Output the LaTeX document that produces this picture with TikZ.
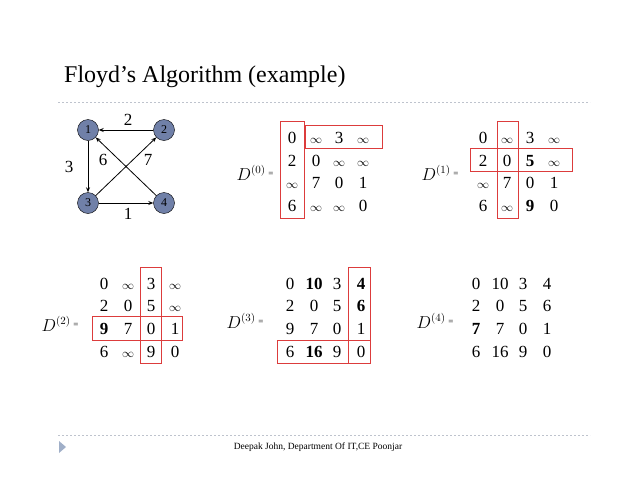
\documentclass[tikz,border=0pt]{standalone}
\usepackage{fontspec}
\setmainfont{Liberation Serif}
\usetikzlibrary{arrows.meta}
\definecolor{vfill}{RGB}{112,128,168}
\definecolor{rbox}{RGB}{220,60,60}
\definecolor{sepc}{RGB}{190,195,205}
\definecolor{tric}{RGB}{160,175,200}
\begin{document}
\begin{tikzpicture}[x=1pt,y=-1pt,
  vtx/.style={circle,draw=black,fill=vfill,minimum size=21pt,inner sep=0pt,font=\fontsize{12}{12}\selectfont},
  edge/.style={-{Stealth[length=5pt,width=4pt]},thick},
  ent/.style={font=\fontsize{17}{17}\selectfont,inner sep=0pt,anchor=base},
  lbl/.style={font=\fontsize{17}{17}\selectfont,inner sep=0pt},
  redbox/.style={draw=rbox,line width=0.8pt},
  sep/.style={draw=sepc,dash pattern=on 2pt off 2pt}]
\useasboundingbox (0,0) rectangle (638,493);
\node[anchor=base west,inner sep=0pt,font=\fontsize{24}{24}\selectfont] (title) at (64,82) {Floyd’s Algorithm (example)};
\draw[sep] (58,102) -- (590,102);
\draw[sep] (58,435) -- (590,435);
\fill[tric] (59,441) -- (66,447) -- (59,453) -- cycle;
\node[font=\fontsize{9.5}{9.5}\selectfont] (foot) at (318,447) {Deepak John, Department Of IT,CE Poonjar};
% graph
\node[vtx] (n1) at (88,130) {1};
\node[vtx] (n2) at (164,130) {2};
\node[vtx] (n3) at (88,203) {3};
\node[vtx] (n4) at (164,203) {4};
\draw[edge] (n2) -- (n1);
\draw[edge] (n1) -- (n3);
\draw[edge] (n3) -- (n2);
\draw[edge] (n4) -- (n1);
\draw[edge] (n3) -- (n4);
\node[lbl] (l2) at (128,120) {2};
\node[lbl] (l3) at (69,167) {3};
\node[lbl] (l6) at (103,160) {6};
\node[lbl] (l7) at (148,160) {7};
\node[lbl] (l1) at (128,214) {1};
% matrix macro
\newcommand{\mrow}[6]{%
  \node[ent] at (#1,#2) {#3}; \node[ent] at (#1+24,#2) {#4};
  \node[ent] at (#1+47,#2) {#5}; \node[ent] at (#1+71,#2) {#6};}
\def\I{{\fontsize{12}{12}\selectfont$\infty$}}
\newcommand{\dlab}[1]{$D^{(#1)}$\,\raisebox{4pt}{\fontsize{9}{9}\selectfont =}}
% D0
\node[lbl,font=\fontsize{16}{16}\selectfont] (d0) at (255,173) {\dlab{0}};
\draw[redbox] (280,121) rectangle (304,218);
\draw[redbox] (305,125) rectangle (382,148);
\mrow{292}{143}{0}{\I}{3}{\I}
\mrow{292}{166}{2}{0}{\I}{\I}
\mrow{292}{188}{\I}{7}{0}{1}
\mrow{292}{211}{6}{\I}{\I}{0}
% D1
\node[lbl,font=\fontsize{16}{16}\selectfont] (d1) at (440,173) {\dlab{1}};
\draw[redbox] (497,121) rectangle (518,218);
\draw[redbox] (470,148) rectangle (572,171);
\mrow{483}{143}{0}{\I}{3}{\I}
\mrow{483}{166}{2}{0}{\textbf{5}}{\I}
\mrow{483}{188}{\I}{7}{0}{1}
\mrow{483}{211}{6}{\I}{\textbf{9}}{0}
% D2
\node[lbl,font=\fontsize{16}{16}\selectfont] (d2) at (60,324) {\dlab{2}};
\draw[redbox] (140,267) rectangle (161,363);
\draw[redbox] (92,316) rectangle (182,340);
\mrow{104}{289}{0}{\I}{3}{\I}
\mrow{104}{311}{2}{0}{5}{\I}
\mrow{104}{334}{\textbf{9}}{7}{0}{1}
\mrow{104}{357}{6}{\I}{9}{0}
% D3
\node[lbl,font=\fontsize{16}{16}\selectfont] (d3) at (245,321) {\dlab{3}};
\draw[redbox] (348,267) rectangle (370,363);
\draw[redbox] (277,340) rectangle (370,363);
\mrow{290}{289}{0}{\textbf{10}}{3}{\textbf{4}}
\mrow{290}{311}{2}{0}{5}{\textbf{6}}
\mrow{290}{334}{9}{7}{0}{1}
\mrow{290}{357}{6}{\textbf{16}}{9}{0}
% D4
\node[lbl,font=\fontsize{16}{16}\selectfont] (d4) at (435,321) {\dlab{4}};
\mrow{476}{289}{0}{10}{3}{4}
\mrow{476}{311}{2}{0}{5}{6}
\mrow{476}{334}{\textbf{7}}{7}{0}{1}
\mrow{476}{357}{6}{16}{9}{0}
\end{tikzpicture}
\end{document}
